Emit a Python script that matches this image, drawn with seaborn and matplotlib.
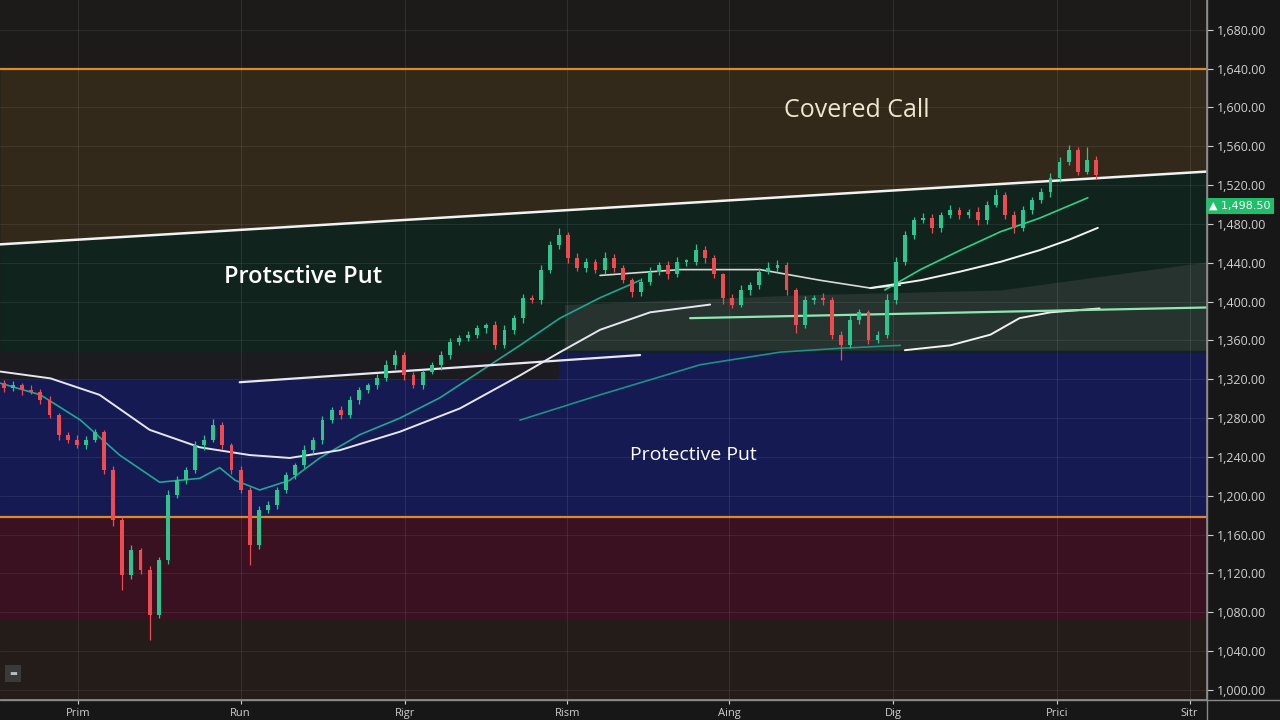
import numpy as np
import pandas as pd
import matplotlib
matplotlib.use("Agg")
import matplotlib.pyplot as plt
import matplotlib.transforms as mtransforms
from matplotlib.lines import Line2D
import seaborn as sns

# ---------------- data ----------------
first_open = 1316
closes = [
    1311, 1314, 1309, 1307, 1299, 1283, 1263, 1258, 1252, 1258,
    1266, 1227, 1175, 1118, 1144, 1124, 1077, 1134, 1201, 1216,
    1227, 1252, 1258, 1273, 1252, 1227, 1206, 1149, 1185, 1191,
    1206, 1221, 1232, 1247, 1258, 1278, 1288, 1283, 1299, 1309,
    1314, 1321, 1335, 1345, 1324, 1314, 1328, 1335, 1345, 1358,
    1363, 1366, 1373, 1376, 1355, 1371, 1383, 1404, 1402, 1433,
    1458, 1469, 1445, 1435, 1441, 1433, 1445, 1435, 1422, 1410,
    1420, 1431, 1438, 1428, 1441, 1441, 1453, 1445, 1428, 1404,
    1397, 1412, 1417, 1431, 1435, 1438, 1412, 1376, 1402, 1404,
    1402, 1366, 1355, 1381, 1389, 1361, 1366, 1402, 1441, 1469,
    1484, 1486, 1476, 1489, 1494, 1489, 1492, 1484, 1500, 1510,
    1489, 1476, 1494, 1505, 1513, 1527, 1544, 1556, 1534, 1546,
    1530,
]
upper_wick = [
    3, 4, 2, 5, 3, 4, 2, 3, 5, 4,
    3, 2, 4, 3, 5, 2, 4, 3, 5, 4,
    3, 4, 5, 6, 3, 2, 4, 3, 5, 4,
    3, 4, 2, 5, 3, 4, 3, 5, 4, 3,
    2, 4, 5, 5, 3, 4, 2, 3, 4, 5,
    3, 4, 3, 2, 4, 5, 3, 4, 3, 5,
    4, 7, 3, 5, 4, 3, 6, 4, 3, 2,
    4, 5, 3, 4, 5, 3, 6, 4, 3, 2,
    4, 5, 3, 4, 6, 5, 3, 2, 4, 3,
    5, 3, 4, 5, 3, 2, 4, 6, 5, 4,
    3, 5, 4, 3, 6, 4, 3, 5, 4, 6,
    3, 4, 5, 3, 4, 6, 5, 5, 3, 13,
    4,
]
lower_wick = [
    4, 3, 5, 2, 4, 3, 5, 4, 3, 4,
    3, 5, 6, 15, 4, 5, 26, 3, 4, 3,
    4, 3, 5, 3, 4, 5, 3, 20, 4, 3,
    5, 3, 4, 3, 4, 5, 3, 4, 3, 4,
    3, 4, 3, 4, 5, 3, 4, 3, 5, 4,
    3, 4, 3, 5, 4, 3, 4, 5, 3, 4,
    3, 4, 5, 3, 4, 3, 5, 4, 3, 5,
    4, 3, 4, 5, 3, 4, 3, 5, 4, 6,
    4, 3, 5, 4, 3, 4, 5, 8, 3, 4,
    5, 4, 15, 3, 4, 5, 4, 3, 4, 3,
    4, 3, 5, 4, 3, 4, 3, 5, 4, 3,
    4, 5, 3, 4, 3, 5, 4, 3, 4, 3,
    4,
]

# moving-average style lines (x = candle index, y = price)
ma_fast_x = [-0.4, 4, 8.4, 12.7, 17.1, 21.5, 23.7, 25.4, 28.1, 31.4, 34.7, 39.1, 43.5, 47.9, 52.3, 56.7, 61.1, 65.5, 69.9]
ma_fast_y = [1316, 1304, 1278, 1242, 1214, 1218, 1229, 1216, 1206, 1216, 1239, 1263, 1280, 1301, 1328, 1355, 1383, 1404, 1422]

ma_slow_x = [-0.4, 5.1, 10.5, 16.0, 21.5, 27.0, 31.4, 36.9, 43.5, 50.1, 56.7, 61.1, 65.5, 71.0, 77.6]
ma_slow_y = [1328, 1321, 1304, 1268, 1250, 1242, 1239, 1247, 1266, 1290, 1324, 1348, 1371, 1389, 1397]

ma_mid_x = [65.5, 74.3, 83.1, 89.7, 95.2, 98.5]
ma_mid_y = [1427, 1433, 1433, 1422, 1414, 1417]

ma_green_x = [96.8, 100.7, 105.1, 109.5, 113.8, 119.1]
ma_green_y = [1412, 1433, 1453, 1472, 1486, 1507]

ma_white_r_x = [95.2, 100.7, 105.1, 109.5, 113.8, 117.1, 120.2]
ma_white_r_y = [1414, 1422, 1431, 1441, 1453, 1464, 1476]

ma_low_r_x = [99.0, 104.0, 108.4, 111.6, 115.0, 120.4]
ma_low_r_y = [1350, 1355, 1366, 1383, 1389, 1393]

ma_teal_slow_x = [56.7, 65.5, 76.5, 85.3, 91.9, 98.5]
ma_teal_slow_y = [1278, 1304, 1335, 1348, 1352, 1355]

level_seg_x = [25.9, 69.9]
level_seg_y = [1317, 1345]

green_level_x = [75.4, 132.2]
green_level_y = [1383, 1394]

trend_x = [-0.44, 132.2]
trend_y = [1459, 1534]

cloud_x = [61.6, 87.5, 109.5, 132.2]
cloud_top = [1397, 1407, 1412, 1441]
cloud_bottom = [1350, 1350, 1350, 1350]

call_level = 1640
put_level = 1178
blue_top = 1348
dark_strip_top = 1319
red_bottom = 1072
last_price = 1498.5

month_pos = [8.1, 26.0, 44.1, 61.9, 79.7, 97.7, 115.7, 130.3]
month_labels = ["Prim", "Run", "Rigr", "Rism", "Aing", "Dig", "Prici", "Sitr"]
price_ticks = list(range(1000, 1681, 40))
price_labels = [f"{v:,.2f}" for v in price_ticks]

# ---------------- style ----------------
sns.set_theme(style="dark")
plt.rcParams['font.family'] = ['Open Sans', 'DejaVu Sans']

XMIN, XMAX = -0.44, 132.2
YMIN, YMAX = 989.7, 1710.7

fig = plt.figure(figsize=(12.8, 7.2), dpi=100, facecolor='#171717')
ax = fig.add_axes([0, 20 / 720, 1207 / 1280, 700 / 720])
ax.set_facecolor('#1c1b19')
ax.set_xlim(XMIN, XMAX)
ax.set_ylim(YMIN, YMAX)

# zones
ax.axhspan(YMIN, red_bottom, color='#231c19', zorder=0, lw=0)
ax.axhspan(red_bottom, put_level, color='#391120', zorder=0, lw=0)
ax.axhspan(put_level, blue_top, color='#151b52', zorder=0, lw=0)
ax.fill_between([XMIN, 61.0], dark_strip_top, blue_top, color='#1b1b20', zorder=0.1, lw=0)
ax.fill_between(trend_x, [blue_top, blue_top], trend_y, color='#10241d', zorder=0, lw=0)
ax.fill_between(trend_x, trend_y, [call_level, call_level], color='#33291b', zorder=0, lw=0)
ax.fill_between(cloud_x, cloud_bottom, cloud_top, color='#3c423f', alpha=0.5, zorder=0.5, lw=0)

# grid
for p in price_ticks:
    ax.axhline(p, color='white', alpha=0.07, lw=0.8, zorder=0.6)
for m in month_pos:
    ax.axvline(m, color='white', alpha=0.09, lw=0.8, zorder=0.6)

# level lines
ax.axhline(call_level, color='#e0892c', lw=1.6, zorder=2)
ax.axhline(put_level, color='#e0892c', lw=1.6, zorder=2)
sns.lineplot(x=trend_x, y=trend_y, ax=ax, color='#f2f2f2', lw=1.8, zorder=2.5, estimator=None)

# moving averages
line_specs = [
    (ma_fast_x, ma_fast_y, '#22a594', 1.2),
    (ma_slow_x, ma_slow_y, '#e6e6f0', 1.4),
    (ma_mid_x, ma_mid_y, '#d9d9d9', 1.2),
    (ma_green_x, ma_green_y, '#2fd28a', 1.2),
    (ma_white_r_x, ma_white_r_y, '#f2f2f2', 1.4),
    (ma_low_r_x, ma_low_r_y, '#f2f2f2', 1.4),
    (ma_teal_slow_x, ma_teal_slow_y, '#1f8f87', 1.2),
    (level_seg_x, level_seg_y, '#e8e8f2', 1.6),
    (green_level_x, green_level_y, '#8fe8b4', 1.6),
]
for lx, ly, c, w in line_specs:
    sns.lineplot(x=lx, y=ly, ax=ax, color=c, lw=w, zorder=2.2, estimator=None)

# candles
n = len(closes)
idx = np.arange(n)
opens = np.array([first_open] + closes[:-1], dtype=float)
cl = np.array(closes, dtype=float)
up = cl >= opens
colors = np.where(up, '#2cc58e', '#ef4a4f')
body_lo = np.minimum(opens, cl)
body_hi = np.maximum(opens, cl)
heights = np.maximum(body_hi - body_lo, 1.5)
highs = body_hi + np.array(upper_wick)
lows = body_lo - np.array(lower_wick)
ax.vlines(idx, lows, highs, colors=colors, lw=0.9, zorder=3)
ax.bar(idx, heights, bottom=body_lo, width=0.42, color=colors, lw=0, zorder=3.1)

# labels
ax.text(93.7, 1597, "Covered Call", color='#efe6cf', fontsize=18, ha='center', va='center', zorder=5)
ax.text(32.9, 1425, "Protsctive Put", color='white', fontsize=17, fontweight='semibold', ha='center', va='center', zorder=5)
ax.text(75.8, 1242, "Protective Put", color='white', fontsize=14, ha='center', va='center', zorder=5)

# axes / ticks
ax.yaxis.tick_right()
ax.set_yticks(price_ticks)
ax.set_yticklabels(price_labels)
ax.set_xticks(month_pos)
ax.set_xticklabels(month_labels)
ax.tick_params(axis='y', colors='#d0d0d0', labelsize=9, length=4, width=0.8, pad=3, right=True, direction='out')
ax.tick_params(axis='x', colors='#cfcfcf', labelsize=8, length=3, width=0.8, pad=3, bottom=True)
for s in ['top', 'left']:
    ax.spines[s].set_visible(False)
ax.spines['right'].set_color('#8a8a8a')
ax.spines['bottom'].set_color('#8a8a8a')
ax.set_xlabel('')
ax.set_ylabel('')
ax.grid(False)

# last price tag
trans = mtransforms.blended_transform_factory(ax.transAxes, ax.transData)
ax.text(1.002, last_price, "\u25b2 1,498.50", transform=trans, ha='left', va='center',
        color='white', fontsize=8, family=['DejaVu Sans'], zorder=6, clip_on=False,
        bbox=dict(facecolor='#1fbf6a', edgecolor='none', boxstyle='square,pad=0.3'))

# frame lines across figure
fig.add_artist(Line2D([0, 1], [20 / 720, 20 / 720], color='#8a8a8a', lw=1.0))
fig.add_artist(Line2D([1207 / 1280, 1207 / 1280], [0, 1], color='#8a8a8a', lw=1.0))

# small widget bottom-left
ax.text(1.0, 1017, "\u25ac", color='#bbbbbb', fontsize=6, family=['DejaVu Sans'], ha='center', va='center',
        zorder=6, bbox=dict(facecolor='#3a3a3a', edgecolor='none', boxstyle='square,pad=0.5'))

fig.savefig("out.png", dpi=100, facecolor=fig.get_facecolor())
